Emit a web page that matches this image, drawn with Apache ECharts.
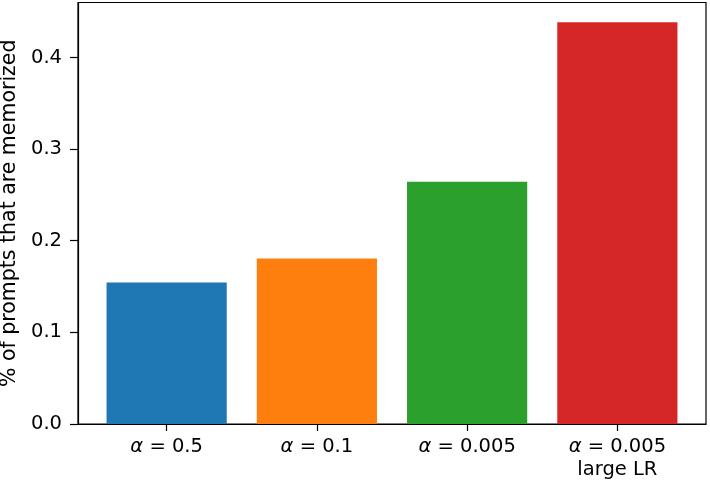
<!DOCTYPE html>
<html>
<head>
<meta charset="utf-8">
<script src="https://cdn.jsdelivr.net/npm/echarts@6/dist/echarts.min.js"></script>
<style>
html,body{margin:0;padding:0;background:#fff;}
#main{width:710px;height:482px;}
</style>
</head>
<body>
<div id="main"></div>
<script>
// ---- data ----
var categories = ['α = 0.5', 'α = 0.1', 'α = 0.005', 'α = 0.005\nlarge LR'];
var values = [0.1543, 0.1805, 0.2643, 0.4384];
var colors = ['#1f77b4', '#ff7f0e', '#2ca02c', '#d62728'];
var yTicks = [0, 0.1, 0.2, 0.3, 0.4];
var yAxisTitle = '% of prompts that are memorized';

var chart = echarts.init(document.getElementById('main'), null, {renderer: 'canvas'});
var gridLeft = 78, gridRight = 4;
var xMin = -0.59, xMax = 3.59;
var unitPx = (710 - gridLeft - gridRight) / (xMax - xMin);
var catIdx = categories.map(function (c, i) { return i; });
var font = 'DejaVu Sans';
var fs = 19.5;

chart.setOption({
  animation: false,
  backgroundColor: '#fff',
  grid: {left: gridLeft, right: gridRight, top: 2.5, bottom: 58, containLabel: false, outerBoundsMode: 'none',
    show: true, borderColor: '#000', borderWidth: 1.2, backgroundColor: 'transparent'},
  xAxis: {
    type: 'value', min: xMin, max: xMax,
    splitLine: {show: false},
    axisLine: {show: true, onZero: false, lineStyle: {color: '#000', width: 1.2}},
    axisTick: {show: true, length: 7, lineStyle: {color: '#000', width: 1.2}, customValues: catIdx},
    axisLabel: {
      customValues: catIdx, margin: 11, color: '#000', fontFamily: font, fontSize: fs, lineHeight: 23,
      formatter: function (v) {
        var s = categories[Math.round(v)] || '';
        return s.replace('α', '{a|α}');
      },
      rich: {a: {fontStyle: 'italic', fontFamily: font, fontSize: fs, color: '#000', lineHeight: 23}}
    }
  },
  yAxis: {
    type: 'value', min: 0, max: 0.46,
    splitLine: {show: false},
    axisLine: {show: true, onZero: false, lineStyle: {color: '#000', width: 1.2}},
    axisTick: {show: true, length: 8, lineStyle: {color: '#000', width: 1.2}, customValues: yTicks},
    axisLabel: {customValues: yTicks, margin: 16, color: '#000', fontFamily: font, fontSize: fs,
      formatter: function (v) { return v.toFixed(1); }},
    name: yAxisTitle, nameLocation: 'middle', nameRotate: 90, nameGap: 58, nameMoveOverlap: false,
    nameTextStyle: {color: '#000', fontFamily: font, fontSize: 20.5}
  },
  series: [{
    type: 'bar',
    barWidth: unitPx * 0.8,
    data: values.map(function (v, i) { return {value: [i, v], itemStyle: {color: colors[i]}}; })
  }]
});
</script>
</body>
</html>
